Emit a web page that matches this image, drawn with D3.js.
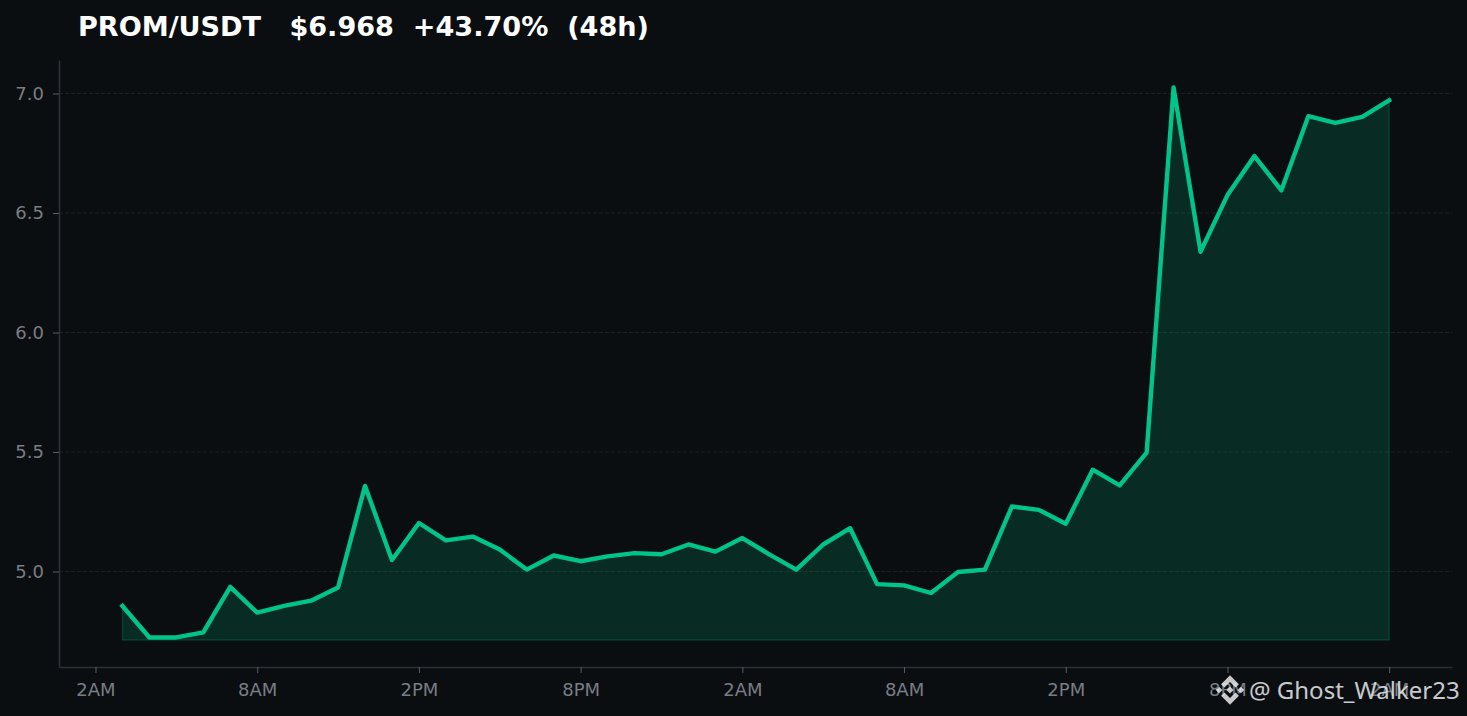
<!DOCTYPE html>
<html>
<head>
<meta charset="utf-8">
<script src="https://cdn.jsdelivr.net/npm/d3@7"></script>
<style>
  html, body { margin: 0; padding: 0; background: #0a0e11; overflow: hidden; }
  svg { display: block; }
  text { font-family: "DejaVu Sans", sans-serif; }
</style>
</head>
<body>
<svg id="container"></svg>
<script>
const width = 1467;
const height = 716;
const margin = ({top: 60, right: 15, bottom: 49, left: 59});

const titleText = "PROM/USDT\u00a0\u00a0\u00a0$6.968\u00a0\u00a0+43.70%\u00a0\u00a0(48h)";
const watermark = "@ Ghost_Walker23";

// hourly prices
const prices = [
  4.856, 4.724, 4.724, 4.745, 4.936, 4.828, 4.856, 4.878, 4.933, 5.358,
  5.048, 5.203, 5.130, 5.146, 5.092, 5.008, 5.067, 5.043, 5.063, 5.077,
  5.072, 5.113, 5.083, 5.140, 5.072, 5.008, 5.113, 5.181, 4.947, 4.942,
  4.910, 4.998, 5.008, 5.272, 5.258, 5.200, 5.426, 5.360, 5.497, 7.025,
  6.338, 6.575, 6.738, 6.595, 6.905, 6.877, 6.902, 6.972
];
const baseline = 4.713;

const xTickHours = [0, 6, 12, 18, 24, 30, 36, 42, 48];
const xTickLabels = ["2AM", "8AM", "2PM", "8PM", "2AM", "8AM", "2PM", "8PM", "2AM"];
const yTicks = [5.0, 5.5, 6.0, 6.5, 7.0];

const green = "#00c48a";

var x = d3.scaleLinear()
        .domain([-1.354, 50.33])
        .range([margin.left, width - margin.right]);

var y = d3.scaleLinear()
        .domain([4.6004, 7.1402])
        .range([height - margin.bottom, margin.top]);

var xAxis = g => g
        .attr("transform", `translate(0,${height - margin.bottom})`)
        .call(d3.axisBottom(x)
            .tickValues(xTickHours)
            .tickFormat((d, i) => xTickLabels[i])
            .tickSizeInner(6)
            .tickSizeOuter(0)
            .tickPadding(10))
        .call(g => g.select(".domain").attr("stroke", "#2c3036").attr("stroke-width", 1.6))
        .call(g => g.selectAll(".tick line").attr("stroke", "#5a5f67").attr("stroke-width", 1))
        .call(g => g.selectAll(".tick text")
            .attr("fill", "#787d85")
            .attr("font-size", 18)
            .style("font-family", '"DejaVu Sans", sans-serif'));

var yAxis = g => g
        .attr("transform", `translate(${margin.left},0)`)
        .call(d3.axisLeft(y)
            .tickValues(yTicks)
            .tickFormat(d3.format(".1f"))
            .tickSizeInner(6)
            .tickSizeOuter(0)
            .tickPadding(9))
        .call(g => g.select(".domain").attr("stroke", "#2c3036").attr("stroke-width", 1.6))
        .call(g => g.selectAll(".tick line").attr("stroke", "#5a5f67").attr("stroke-width", 1))
        .call(g => g.selectAll(".tick text")
            .attr("fill", "#787d85")
            .attr("font-size", 18)
            .style("font-family", '"DejaVu Sans", sans-serif'));

var chart = function() {
    const svg = d3.select("#container")
                .attr("width", width)
                .attr("height", height)
                .attr("viewBox", [0, 0, width, height]);

    svg.append("rect")
        .attr("width", width)
        .attr("height", height)
        .attr("fill", "#0a0e11");

    // dashed grid, y only
    svg.append("g")
        .selectAll("line")
        .data(yTicks)
        .join("line")
        .attr("x1", margin.left)
        .attr("x2", width - margin.right)
        .attr("y1", d => y(d))
        .attr("y2", d => y(d))
        .attr("stroke", "#1c2125")
        .attr("stroke-width", 1)
        .attr("stroke-dasharray", "4 2");

    const points = prices.map((p, i) => [i + 1, p]);

    const area = d3.area()
        .x(d => x(d[0]))
        .y0(y(baseline))
        .y1(d => y(d[1]));

    const line = d3.line()
        .x(d => x(d[0]))
        .y(d => y(d[1]));

    svg.append("path")
        .attr("d", area(points))
        .attr("fill", green)
        .attr("fill-opacity", 0.16)
        .attr("stroke", green)
        .attr("stroke-opacity", 0.2)
        .attr("stroke-width", 1.5);

    svg.append("g").call(yAxis);
    svg.append("g").call(xAxis);

    svg.append("path")
        .attr("d", line(points))
        .attr("fill", "none")
        .attr("stroke", green)
        .attr("stroke-width", 4.4)
        .attr("stroke-linejoin", "round")
        .attr("stroke-linecap", "square");

    svg.append("text")
        .attr("x", 78)
        .attr("y", 36)
        .attr("fill", "#ffffff")
        .attr("font-size", 27.1)
        .attr("font-weight", "bold")
        .text(titleText);

    // watermark, sits on top of the last x labels
    const mark = svg.append("g").attr("opacity", 0.85);

    const logo = mark.append("g")
        .attr("transform", "translate(1230,690) scale(1.05)")
        .attr("fill", "#e8eaec");
    // four chevrons around a centre diamond
    logo.append("path").attr("d", "M0,-14 L8.5,-5.5 L5.3,-2.3 L0,-7.6 L-5.3,-2.3 L-8.5,-5.5 Z");
    logo.append("path").attr("d", "M0,14 L8.5,5.5 L5.3,2.3 L0,7.6 L-5.3,2.3 L-8.5,5.5 Z");
    logo.append("path").attr("d", "M0,-3.4 L3.4,0 L0,3.4 L-3.4,0 Z");
    logo.append("path").attr("d", "M-13.6,0 L-10.4,-3.2 L-7.2,0 L-10.4,3.2 Z");
    logo.append("path").attr("d", "M13.6,0 L10.4,-3.2 L7.2,0 L10.4,3.2 Z");

    mark.append("text")
        .attr("x", 1249)
        .attr("y", 699)
        .attr("fill", "#e8eaec")
        .attr("font-size", 24)
        .style("font-family", '"Noto Sans", sans-serif')
        .text(watermark);

    return svg.node();
}
chart();
</script>
</body>
</html>
